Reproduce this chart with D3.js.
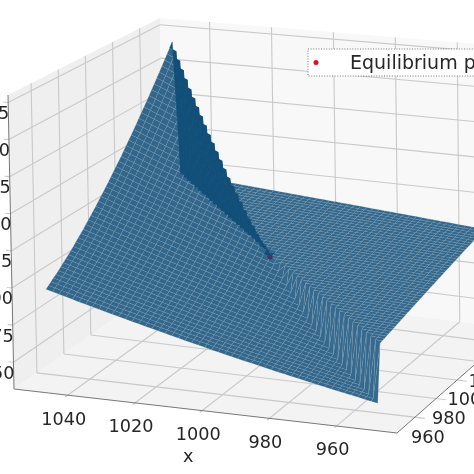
<!DOCTYPE html>
<html><head><meta charset="utf-8">
<script src="https://cdn.jsdelivr.net/npm/d3@7"></script>
<style>html,body{margin:0;padding:0;background:#fff;overflow:hidden}svg{display:block;filter:blur(0.4px)}text{font-family:"DejaVu Sans",sans-serif;fill:#262626}</style>
</head><body><svg id="c" width="474" height="474"></svg>
<script>
// ---- data ----
const xTicks = [1040, 1020, 1000, 980, 960];
const yTicks = [960, 980, 1000, 1020];
const yGridTicks = [960, 980, 1000, 1020, 1040];
const zTicks = [225, 200, 175, 150, 125, 100, 75, 50];
const axisLabel = "x";
const legendLabel = "Equilibrium point";
const equilibrium = {x: 1000, y: 1000, z: 101};
const tableStep = 10, surfaceMin = 950, surfaceMax = 1050, meshStep = 2;
// z on the side x >= y : row per y (950..1050), columns x = y..1050
const zLower = [
 [45,49.1,53.5,58.1,62.9,68,73.3,78.9,84.7,90.7,97],
 [51.5,56.4,61.4,66.7,72.3,78.1,84.1,90.4,96.9,103.7],
 [60.3,65.9,71.6,77.7,84,90.5,97.3,104.3,111.5],
 [71.5,77.8,84.3,91.1,98,105.3,112.8,120.5],
 [85,92.1,99.4,106.8,114.5,122.5,130.7],
 [101,108.7,116.7,124.9,133.3,142],
 [119.3,127.7,136.4,145.3,154.5],
 [139.9,149,158.4,168.1],
 [163,172.8,182.9],
 [188.3,198.9],
 [216]];
// z on the side x < y : row per y (950..1050), columns x = 950..y
const zUpper = [
 [82],
 [84.1,85.7],
 [86.2,87.8,89.4],
 [88.3,89.9,91.5,93.1],
 [90.4,92,93.6,95.2,96.8],
 [92.5,94.1,95.7,97.3,98.9,100.5],
 [94.6,96.2,97.8,99.4,101,102.6,104.2],
 [96.7,98.3,99.9,101.5,103.1,104.7,106.3,107.9],
 [98.8,100.4,102,103.6,105.2,106.8,108.4,110,111.6],
 [100.9,102.5,104.1,105.7,107.3,108.9,110.5,112.1,113.7,115.3],
 [103,104.6,106.2,107.8,109.4,111,112.6,114.2,115.8,117.4,119]];

// ---- 3D box -> screen ----
const U = d3.scaleLinear().domain([1056, 942]).range([0, 1]);
const V = d3.scaleLinear().domain([943, 1055]).range([0, 1]);
const W = d3.scaleLinear().domain([32, 230]).range([0, 1]);
const corner = {
  a0: [14, 389], a1: [8, 95],
  b0: [397, 433], b1: [399, 122],
  f0: [165, 283], f1: [160, 18],
  e0: [515, 329], e1: [513, 47]
};
function project(x, y, z) {
  const u = U(x), v = V(y), w = W(z);
  const mix = k => {
    const lo = corner.a0[k]*(1-u)*(1-v) + corner.b0[k]*u*(1-v) + corner.f0[k]*(1-u)*v + corner.e0[k]*u*v;
    const hi = corner.a1[k]*(1-u)*(1-v) + corner.b1[k]*u*(1-v) + corner.f1[k]*(1-u)*v + corner.e1[k]*u*v;
    return lo + (hi-lo)*w;
  };
  return [mix(0), mix(1)];
}
// small correction of the box mapping toward the near-left corner of the surface
function projectSurface(x, y, z) {
  const p = project(x, y, z), u = U(x), v = V(y), f = (1-u)*(1-v);
  return [p[0] + 5.5*f*f, p[1] + 1*f*f];
}
const xLo = U.domain()[1], xHi = U.domain()[0], yLo = V.domain()[0], yHi = V.domain()[1], zLo = W.domain()[0], zHi = W.domain()[1];

// ---- surface ----
function zAt(x, y) {
  const lower = x >= y;
  const g = (i, j) => lower ? zLower[j][i-j] : zUpper[j][i];
  const fi = (x-surfaceMin)/tableStep, fj = (y-surfaceMin)/tableStep;
  const ci = Math.min(9, Math.floor(fi)), cj = Math.min(9, Math.floor(fj));
  const s = fi-ci, t = fj-cj;
  const z00 = g(ci, cj), z11 = g(ci+1, cj+1);
  return s >= t ? z00 + s*(g(ci+1,cj)-z00) + t*(z11-g(ci+1,cj))
                : z00 + t*(g(ci,cj+1)-z00) + s*(z11-g(ci,cj+1));
}
const nodes = d3.range(surfaceMin, surfaceMax+1, meshStep);
const cells = [];
for (let a = 0; a < nodes.length-1; a++) for (let b = 0; b < nodes.length-1; b++) {
  const x0 = nodes[a], x1 = nodes[a+1], y0 = nodes[b], y1 = nodes[b+1];
  const z00 = zAt(x0,y0), z10 = zAt(x1,y0), z11 = zAt(x1,y1), z01 = zAt(x0,y1);
  const nLower = [x0>=y0, x1>=y0, x1>=y1, x0>=y1].filter(Boolean).length;
  const kind = nLower === 4 ? 0 : nLower === 0 ? 1 : 2;
  const upperHalf = x0 + y0 >= 2*equilibrium.x;
  cells.push({
    kind,
    role: kind !== 2 ? "flat" : upperHalf ? "dark" : "stripe",
    key: (x0+x1) + (y0+y1)*0.8,
    pts: [projectSurface(x0,y0,z00),projectSurface(x1,y0,z10),projectSurface(x1,y1,z11),projectSurface(x0,y1,z01)]
  });
}
cells.sort((p, q) => d3.ascending(p.kind, q.kind) || d3.descending(p.key, q.key));
const fillBy = {flat:"#33668b", dark:"#124f78", stripe:"#36698d"};
const strokeBy = {flat:"#86a8bd", dark:"#124f78", stripe:"#8fb3c8"};
const widthBy = {flat:0.4, dark:0.4, stripe:0.4};

// ---- draw ----
const svg = d3.select("#c");
const poly = pts => d3.line()(pts) + "Z";
const panes = [
  {pts:[[xHi,yLo,zLo],[xLo,yLo,zLo],[xLo,yHi,zLo],[xHi,yHi,zLo]], fill:"#f3f3f3"},
  {pts:[[xHi,yLo,zLo],[xHi,yHi,zLo],[xHi,yHi,zHi],[xHi,yLo,zHi]], fill:"#efefef"},
  {pts:[[xHi,yHi,zLo],[xLo,yHi,zLo],[xLo,yHi,zHi],[xHi,yHi,zHi]], fill:"#f8f8f8"}
];
svg.append("g").selectAll("path").data(panes).join("path")
  .attr("d", d => poly(d.pts.map(p => project(...p)))).attr("fill", d => d.fill);

const seg = [];
yGridTicks.forEach(y => {
  seg.push([[xHi,y,zHi],[xHi,y,zLo]]);
  seg.push([[xHi,y,zLo],[xLo-3,y,zLo]]);
});
xTicks.forEach(x => {
  seg.push([[x,yHi,zHi],[x,yHi,zLo]]);
  seg.push([[x,yHi,zLo],[x,yLo-2,zLo]]);
});
zTicks.forEach(z => {
  seg.push([[xHi+1.5,yLo,z],[xHi,yLo,z]]);
  seg.push([[xHi,yLo,z],[xHi,yHi,z]]);
  seg.push([[xHi,yHi,z],[xLo,yHi,z]]);
});
svg.append("g").selectAll("line").data(seg).join("line")
  .attr("x1", d => project(...d[0])[0]).attr("y1", d => project(...d[0])[1])
  .attr("x2", d => project(...d[1])[0]).attr("y2", d => project(...d[1])[1])
  .attr("stroke", "#c9c9c9").attr("stroke-width", 1.1);

const edges = [[[xHi,yLo,zHi],[xHi,yLo,zLo]],[[xHi,yLo,zLo],[xLo,yLo,zLo]],[[xLo,yLo,zLo],[xLo,yHi,zLo]]];
svg.append("g").selectAll("line").data(edges).join("line")
  .attr("x1", d => project(...d[0])[0]).attr("y1", d => project(...d[0])[1])
  .attr("x2", d => project(...d[1])[0]).attr("y2", d => project(...d[1])[1])
  .attr("stroke", "#777").attr("stroke-width", 1);

svg.append("g").selectAll("path").data(cells).join("path")
  .attr("d", d => poly(d.pts))
  .attr("fill", d => fillBy[d.role])
  .attr("stroke", d => strokeBy[d.role])
  .attr("stroke-opacity", d => d.role === "dark" ? 1 : d.role === "stripe" ? 0.4 : 0.45)
  .attr("stroke-width", d => widthBy[d.role]);

const [ex, ey] = projectSurface(equilibrium.x, equilibrium.y, equilibrium.z);
svg.append("circle").attr("cx", ex).attr("cy", ey).attr("r", 2.6).attr("fill", "#3b3768");

const labels = svg.append("g").attr("font-size", 17.7);
labels.selectAll(".xt").data(xTicks).join("text").attr("class","xt")
  .attr("text-anchor","middle").attr("dy","0.36em")
  .attr("x", d => project(d,yLo,zLo)[0]-4).attr("y", d => project(d,yLo,zLo)[1]+23).text(d => d);
labels.selectAll(".yt").data(yTicks).join("text").attr("class","yt")
  .attr("text-anchor","middle").attr("dy","0.36em")
  .attr("x", d => project(xLo,d,zLo)[0]+13).attr("y", d => project(xLo,d,zLo)[1]+19).text(d => d);
labels.selectAll(".zt").data(zTicks).join("text").attr("class","zt")
  .attr("text-anchor","end").attr("dy","0.36em")
  .attr("x", d => project(xHi,yLo,d)[0]+1).attr("y", d => project(xHi,yLo,d)[1]+10).text(d => d);
labels.append("text").attr("text-anchor","middle").attr("dy","0.36em")
  .attr("x", project(1000,yLo,zLo)[0]-14).attr("y", project(1000,yLo,zLo)[1]+45).text(axisLabel);

const legend = svg.append("g");
legend.append("rect").attr("x",308).attr("y",49).attr("width",220).attr("height",27)
  .attr("fill","#fff").attr("stroke","#777").attr("stroke-width",1).attr("stroke-dasharray","1 1.6");
legend.append("circle").attr("cx",316).attr("cy",62.5).attr("r",2.5).attr("fill","#e3101a");
legend.append("text").attr("x",350).attr("y",68.5).attr("font-size",19).text(legendLabel);
</script></body></html>
